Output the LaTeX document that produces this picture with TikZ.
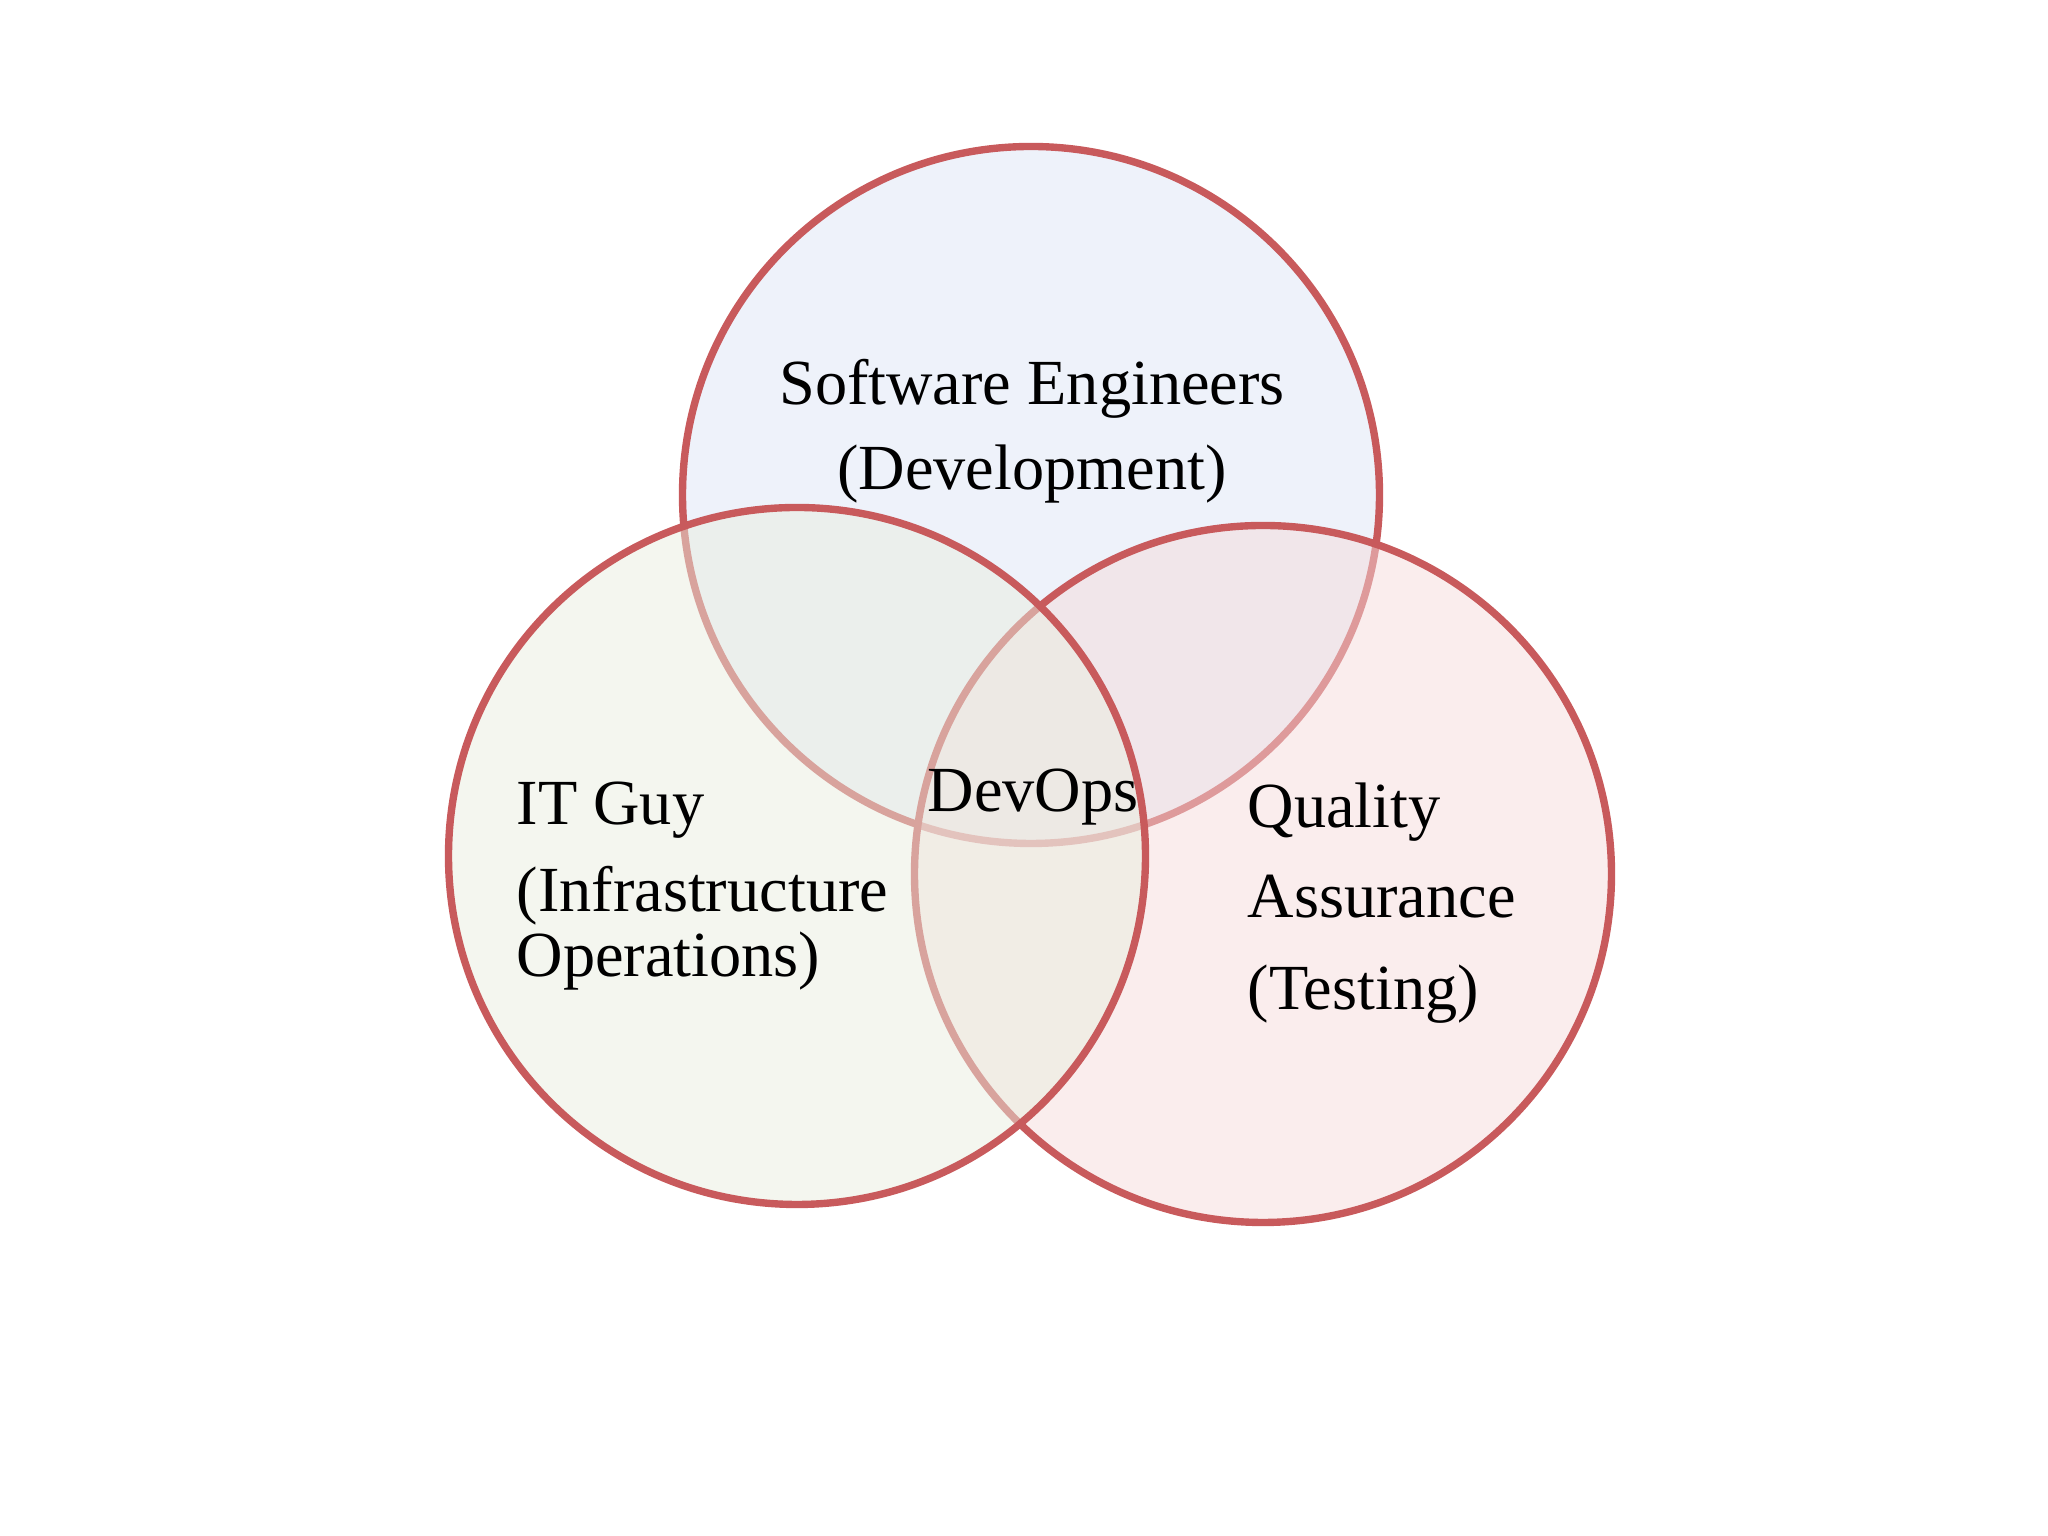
\documentclass[tikz,border=0pt]{standalone}
\usepackage{fontspec}
\setmainfont{Liberation Serif}
\definecolor{ring}{HTML}{C85A5C}
\definecolor{devfill}{HTML}{DDE5F5}
\definecolor{opsfill}{HTML}{E9EDDF}
\definecolor{qafill}{HTML}{F5DBDB}
\begin{document}
\begin{tikzpicture}[
    set/.style={circle, draw=ring, line width=2.1pt, fill opacity=0.5,
      minimum size=6.97cm, inner sep=0pt},
    lbl/.style={font=\fontsize{18.3}{22}\selectfont, inner sep=0pt}]
  \useasboundingbox (0,0) rectangle (20.48,15.36);
  % the three circles: development first, then testing, then operations
  \node[set, fill=devfill] (dev) at (10.31,10.41) {};
  \node[set, fill=qafill] (qa) at (12.63,6.62) {};
  \node[set, fill=opsfill] (ops) at (7.97,6.80) {};
  % labels
  \draw
    (10.32,11.31) node[lbl, anchor=base] (dev1) {Software Engineers}
    (10.32,10.46) node[lbl, anchor=base] (dev2) {(Development)}
    (5.16,7.11) node[lbl, anchor=base west] (ops1) {IT Guy}
    (5.16,6.24) node[lbl, anchor=base west] (ops2) {(Infrastructure}
    (5.16,5.59) node[lbl, anchor=base west] (ops3) {Operations)}
    (12.47,7.08) node[lbl, anchor=base west] (qa1) {Quality}
    (12.47,6.18) node[lbl, anchor=base west] (qa2) {Assurance}
    (12.47,5.26) node[lbl, anchor=base west] (qa3) {(Testing)}
    (10.33,7.24) node[lbl, anchor=base] (devops) {DevOps};
\end{tikzpicture}
\end{document}
